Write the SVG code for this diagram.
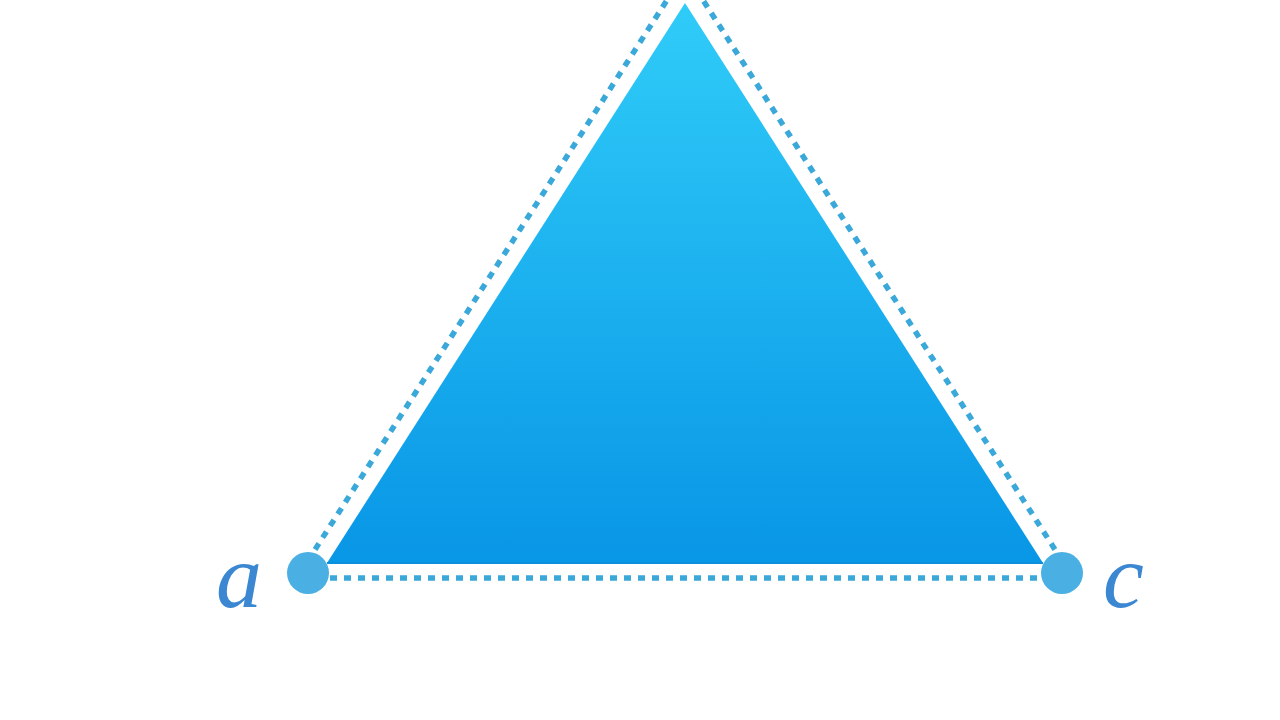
<svg xmlns="http://www.w3.org/2000/svg" width="1280" height="720" viewBox="0 0 1280 720">
<defs>
<linearGradient id="fillG" x1="0" y1="0" x2="0" y2="1">
<stop offset="0" stop-color="#30ccf8"/>
<stop offset="1" stop-color="#0896e6"/>
</linearGradient>
<style>
.dot{fill:none;stroke:#3ba8da;stroke-width:5.5;stroke-dasharray:7 7}
.pt{fill:#4aafe2}
.lbl{font-family:"Liberation Serif",serif;font-style:italic;font-size:92px;fill:#3b87d1}
</style>
</defs>
<rect width="1280" height="720" fill="#ffffff"/>
<g id="triangle">
<polygon points="685,3 1043,563 327,563" fill="url(#fillG)"/>
<line x1="327" y1="563" x2="1043" y2="563" stroke="#0a8fdc" stroke-width="2"/>
</g>
<g id="connectors">
<line class="dot" x1="300" y1="573" x2="685" y2="-28"/>
<line class="dot" x1="1070" y1="573" x2="685" y2="-28"/>
<line class="dot" x1="330" y1="578" x2="1040" y2="578" stroke-width="5"/>
</g>
<g id="node-a">
<circle class="pt" cx="308" cy="573" r="21"/>
<text class="lbl" x="216" y="607">a</text>
</g>
<g id="node-c">
<circle class="pt" cx="1062" cy="573" r="21"/>
<text class="lbl" x="1103" y="607">c</text>
</g>
</svg>
